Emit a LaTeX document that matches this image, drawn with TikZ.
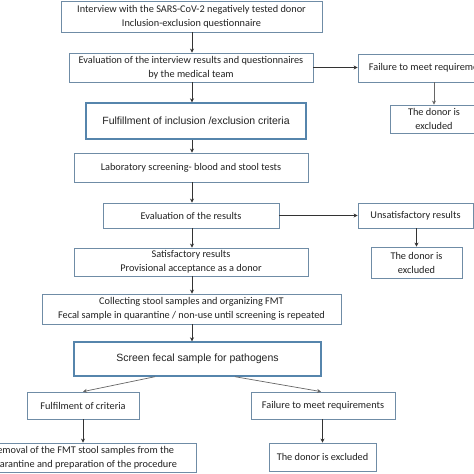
\documentclass[tikz,border=0pt]{standalone}
\usepackage{fontspec}
\setmainfont{Carlito}
\newfontfamily\arialfont{Liberation Sans}
\usetikzlibrary{arrows.meta}
\definecolor{thinb}{HTML}{6F8CA6}
\definecolor{thickb}{HTML}{5685AC}
\definecolor{txt}{HTML}{222222}
\definecolor{arr}{HTML}{333333}
\tikzset{
  box/.style={draw=thinb, line width=0.8pt, fill=white, text=txt, align=center,
    inner sep=0pt, font=\fontsize{10.3}{14}\selectfont},
  thickbox/.style={box, draw=thickb, line width=1.4pt, font=\arialfont\fontsize{10.5}{13}\selectfont},
  conn/.style={draw=arr, line width=0.7pt, -{Stealth[length=4pt,width=4pt]}},
  gconn/.style={conn, draw=gray!80!black}
}
\begin{document}
\begin{tikzpicture}[x=1pt,y=-1pt]
\useasboundingbox (0,0) rectangle (474,474);
\clip (0,0) rectangle (474,474);
\fill[white] (0,0) rectangle (474,474);
\node[box, minimum width=261, minimum height=31] (b1) at (191.5,16.5) {Interview with the SARS-CoV-2 negatively tested donor\\Inclusion-exclusion questionnaire};
\node[box, minimum width=244, minimum height=29] (b2) at (191,67.5) {Evaluation of the interview results and questionnaires\\by the medical team};
\node[box, minimum width=144, minimum height=28] (f1) at (430,68) {Failure to meet requirements};
\node[box, minimum width=88, minimum height=28] (x1) at (434,119) {The donor is\\excluded};
\node[thickbox, minimum width=220, minimum height=36] (b3) at (196,121) {Fulfillment of inclusion /exclusion criteria};
\node[box, minimum width=234, minimum height=29] (b4) at (191,167.5) {Laboratory screening- blood and stool tests};
\node[box, minimum width=176, minimum height=25] (b5) at (191,215.5) {Evaluation of the results};
\node[box, minimum width=115, minimum height=25] (u1) at (415.5,215.5) {Unsatisfactory results};
\node[box, minimum width=91, minimum height=31] (x2) at (416.5,262.5) {The donor is\\excluded};
\node[box, minimum width=234, minimum height=28] (b6) at (191,262) {Satisfactory results\\Provisional acceptance as a donor};
\node[box, minimum width=299, minimum height=30] (b7) at (191.5,309) {Collecting stool samples and organizing FMT\\Fecal sample in quarantine / non-use until screening is repeated};
\node[thickbox, minimum width=247, minimum height=34] (b8) at (197.5,359) {Screen fecal sample for pathogens};
\node[box, minimum width=112, minimum height=27] (b9) at (83,405.5) {Fulfilment of criteria};
\node[box, minimum width=144, minimum height=27] (b10) at (323,405.5) {Failure to meet requirements};
\node[box, minimum width=226, minimum height=29] (b11) at (83,457.5) {Removal of the FMT stool samples from the\\quarantine and preparation of the procedure};
\node[box, minimum width=107, minimum height=28] (b12) at (322.5,457) {The donor is excluded};
\path[conn] (b1.south -| 192,0) -- (b2.north -| 192,0);
\path[conn] (b2.south -| 192,0) -- (b3.north -| 192,0);
\path[conn] (b3.south -| 192,0) -- (b4.north -| 192,0);
\path[conn] (b4.south -| 192,0) -- (b5.north -| 192,0);
\path[conn] (b5.south -| 192,0) -- (b6.north -| 192,0);
\path[conn] (b6.south -| 192,0) -- (b7.north -| 192,0);
\path[conn] (b7.south -| 192,0) -- (b8.north -| 192,0);
\path[conn] (b2.east) -- (f1.west |- b2.east);
\path[gconn] (x1.north |- f1.south) -- (x1.north);
\path[conn] (b5.east) -- (u1.west);
\path[conn] (x2.north |- u1.south) -- (x2.north);
\path[gconn] ([xshift=-42.5pt]b8.south) -- (b9.north);
\path[gconn] ([xshift=37.5pt]b8.south) -- ([xshift=-2pt]b10.north);
\path[conn] (b9.south) -- (b9.south |- b11.north);
\path[conn] (b12.north |- b10.south) -- (b12.north);
\end{tikzpicture}
\end{document}
